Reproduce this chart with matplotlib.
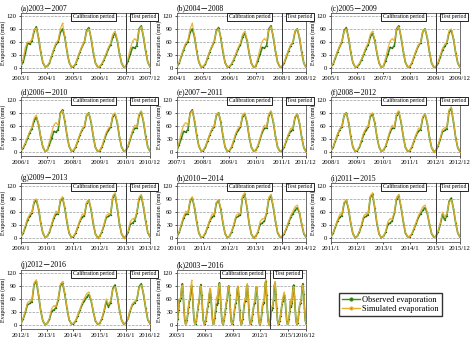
import numpy as np
import matplotlib.pyplot as plt
from matplotlib.lines import Line2D

# monthly evaporation (mm), Jan..Dec for each year
years = list(range(2003, 2017))
observed = {
    2003: [6, 15, 35, 58, 55, 62, 85, 95, 70, 38, 13, 4],
    2004: [5, 12, 28, 42, 55, 60, 82, 90, 72, 40, 14, 4],
    2005: [4, 10, 24, 38, 50, 60, 86, 93, 70, 38, 13, 4],
    2006: [4, 10, 20, 32, 45, 54, 72, 80, 64, 35, 12, 3],
    2007: [5, 18, 32, 48, 46, 52, 90, 97, 72, 40, 14, 4],
    2008: [4, 12, 26, 40, 52, 58, 84, 90, 70, 38, 12, 3],
    2009: [4, 12, 26, 42, 50, 58, 82, 87, 68, 36, 12, 3],
    2010: [5, 14, 30, 46, 55, 55, 85, 92, 70, 38, 12, 3],
    2011: [4, 12, 26, 40, 48, 52, 80, 87, 67, 35, 11, 2],
    2012: [5, 15, 30, 48, 50, 54, 94, 100, 70, 34, 10, 2],
    2013: [5, 14, 32, 35, 40, 58, 90, 97, 72, 40, 13, 4],
    2014: [4, 10, 22, 35, 48, 56, 64, 70, 58, 33, 11, 3],
    2015: [5, 15, 32, 55, 42, 52, 84, 92, 68, 36, 12, 3],
    2016: [6, 16, 34, 48, 52, 58, 88, 95, 72, 40, 13, 4],
}
simulated = {
    2003: [8, 22, 48, 60, 60, 66, 88, 92, 72, 40, 14, 4],
    2004: [6, 14, 30, 45, 58, 64, 90, 103, 74, 41, 14, 4],
    2005: [5, 12, 26, 40, 52, 62, 84, 90, 72, 40, 13, 4],
    2006: [5, 12, 22, 35, 48, 58, 78, 85, 66, 36, 12, 3],
    2007: [6, 25, 45, 62, 68, 62, 88, 95, 74, 41, 14, 4],
    2008: [5, 14, 28, 42, 54, 60, 86, 89, 72, 39, 12, 3],
    2009: [5, 14, 30, 46, 55, 60, 86, 90, 70, 37, 12, 3],
    2010: [6, 16, 33, 50, 62, 58, 88, 95, 72, 39, 12, 3],
    2011: [5, 14, 28, 42, 55, 56, 82, 88, 69, 36, 11, 2],
    2012: [6, 17, 33, 52, 56, 57, 97, 104, 72, 35, 10, 2],
    2013: [6, 16, 38, 45, 45, 60, 94, 100, 74, 41, 14, 4],
    2014: [5, 12, 24, 38, 52, 62, 72, 76, 60, 34, 12, 3],
    2015: [6, 17, 35, 60, 48, 57, 82, 88, 70, 37, 12, 3],
    2016: [7, 18, 36, 50, 55, 60, 86, 92, 74, 41, 14, 4],
}

# (letter, first year, last year, first test year, tick years)
panels = [
    ("a", 2003, 2007, 2007, [2003, 2004, 2005, 2006, 2007]),
    ("b", 2004, 2008, 2008, [2004, 2005, 2006, 2007, 2008]),
    ("c", 2005, 2009, 2009, [2005, 2006, 2007, 2008, 2009]),
    ("d", 2006, 2010, 2010, [2006, 2007, 2008, 2009, 2010]),
    ("e", 2007, 2011, 2011, [2007, 2008, 2009, 2010, 2011]),
    ("f", 2008, 2012, 2012, [2008, 2009, 2010, 2011, 2012]),
    ("g", 2009, 2013, 2013, [2009, 2010, 2011, 2012, 2013]),
    ("h", 2010, 2014, 2014, [2010, 2011, 2012, 2013, 2014]),
    ("i", 2011, 2015, 2015, [2011, 2012, 2013, 2014, 2015]),
    ("j", 2012, 2016, 2016, [2012, 2013, 2014, 2015, 2016]),
    ("k", 2003, 2016, 2013, [2003, 2006, 2009, 2012, 2015]),
]

obs_color = "#3f8a1c"
sim_color = "#e8b030"

plt.rcParams["font.family"] = ["Liberation Serif", "DejaVu Serif"]
plt.rcParams["font.size"] = 5

W, H = 474, 344
fig = plt.figure(figsize=(W / 100, H / 100), dpi=100)

col_left = [21, 177, 331]
row_top = [13, 97, 183, 270]
ax_w, ax_h = 129, 59

for i, (letter, y0, y1, ytest, tick_years) in enumerate(panels):
    r, c = divmod(i, 3)
    ax = fig.add_axes([col_left[c] / W, 1 - (row_top[r] + ax_h) / H, ax_w / W, ax_h / H])
    obs = np.concatenate([observed[y] for y in range(y0, y1 + 1)])
    sim = np.concatenate([simulated[y] for y in range(y0, y1 + 1)])
    x = np.arange(len(obs))
    ax.plot(x, obs, color=obs_color, lw=1.2, marker="o", ms=1.0,
            markerfacecolor="#2a6010", markeredgewidth=0, zorder=3)
    ax.plot(x, sim, color=sim_color, lw=0.9, marker="o", ms=0.8,
            markeredgewidth=0, zorder=4, alpha=0.9)

    split = (ytest - y0) * 12
    ax.axvline(split, color="#333333", lw=0.7, zorder=5)
    ax.set_xlim(0, len(obs) - 1)
    ax.set_ylim(-8, 126)
    ax.set_yticks([0, 30, 60, 90, 120])
    ticks = [(y - y0) * 12 for y in tick_years] + [len(obs) - 1]
    ax.set_xticks(ticks)
    ax.set_xticklabels([f"{y}/1" for y in tick_years] + [f"{y1}/12"])
    ax.grid(axis="y", ls="--", lw=0.5, color="#9a9a9a")
    ax.tick_params(length=1.5, width=0.5, pad=1.5, labelsize=4.8)
    if letter == "k":
        ax.tick_params(axis="x", labelsize=4.3)
    for s in ax.spines.values():
        s.set_linewidth(0.6)
        s.set_color("#555555")
    ax.set_ylabel("Evaporation (mm)", fontsize=4.3, labelpad=0.5)
    ax.set_title(f"({letter}){y0}\uff0d{y1}", loc="left", fontsize=5.6, pad=2,
                 family=["Liberation Serif", "Noto Sans CJK SC"])

    fx = split / (len(obs) - 1)
    box = dict(boxstyle="square,pad=0.25", fc="white", ec="black", lw=0.6)
    off = 0.09 if letter != "k" else 0.05
    ax.text(fx - off, 0.975, "Calibration period", transform=ax.transAxes,
            ha="right", va="top", fontsize=4.1, bbox=box, zorder=6)
    ax.text(fx + 0.04, 0.975, "Test period", transform=ax.transAxes,
            ha="left", va="top", fontsize=4.1, bbox=box, zorder=6)

handles = [
    Line2D([], [], color=obs_color, lw=1, marker="o", ms=2, markerfacecolor="#1f5a10"),
    Line2D([], [], color=sim_color, lw=1, marker="o", ms=2, markerfacecolor="#d07010"),
]
fig.legend(handles, ["Observed evaporation", "Simulated evaporation"],
           loc="upper left", bbox_to_anchor=(335 / W, 1 - 289 / H),
           fontsize=6, frameon=True, fancybox=False, edgecolor="black",
           handlelength=2.2, handletextpad=0.3, borderpad=0.3, labelspacing=0.2)

fig.savefig("out.png", dpi=100)
